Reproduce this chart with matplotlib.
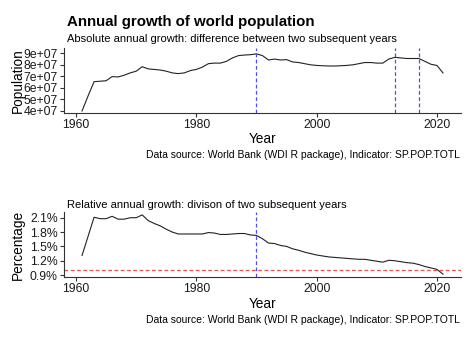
import matplotlib
matplotlib.use("Agg")
import matplotlib.pyplot as plt
from matplotlib.ticker import FuncFormatter

plt.rcParams['font.family'] = ['Liberation Sans', 'DejaVu Sans']

years = list(range(1961, 2022))
abs_growth = [4.00, 5.30, 6.54, 6.58, 6.62, 6.98, 6.95, 7.10, 7.30, 7.45,
              7.84, 7.65, 7.60, 7.55, 7.45, 7.30, 7.24, 7.30, 7.50, 7.60,
              7.80, 8.10, 8.15, 8.15, 8.30, 8.60, 8.80, 8.85, 8.88, 8.95,
              8.80, 8.42, 8.50, 8.42, 8.45, 8.25, 8.20, 8.10, 8.00, 7.95,
              7.92, 7.90, 7.90, 7.92, 7.95, 8.00, 8.10, 8.20, 8.20, 8.15,
              8.15, 8.50, 8.65, 8.60, 8.55, 8.55, 8.55, 8.30, 8.05, 7.95,
              7.30]
abs_growth = [v * 1e7 for v in abs_growth]
rel_growth = [1.31, 1.71, 2.11, 2.08, 2.08, 2.13, 2.07, 2.07, 2.10, 2.10,
              2.16, 2.04, 1.98, 1.93, 1.86, 1.80, 1.76, 1.76, 1.76, 1.76,
              1.76, 1.79, 1.78, 1.75, 1.75, 1.76, 1.77, 1.77, 1.74, 1.73,
              1.66, 1.57, 1.56, 1.52, 1.50, 1.45, 1.42, 1.38, 1.35, 1.32,
              1.30, 1.28, 1.27, 1.26, 1.25, 1.24, 1.23, 1.23, 1.21, 1.19,
              1.17, 1.21, 1.20, 1.18, 1.16, 1.15, 1.12, 1.08, 1.05, 1.02,
              0.92]
abs_vlines = [1990, 2013, 2017]
rel_vlines = [1990]
rel_hline = 1.0
x_ticks = [1960, 1980, 2000, 2020]
abs_ticks = [4e7, 5e7, 6e7, 7e7, 8e7, 9e7]
rel_ticks = [0.9, 1.2, 1.5, 1.8, 2.1]

W, H = 474, 338
fig = plt.figure(figsize=(W / 100, H / 100), dpi=100)

def fx(px):
    return px / W

def fy(py):
    return 1 - py / H

left, right = 64, 461
ax1 = fig.add_axes([fx(left), fy(112.7), fx(right - left), (112.7 - 48) / H])
ax2 = fig.add_axes([fx(left), fy(277), fx(right - left), (277 - 212) / H])

axis_col = '#333333'
for ax in (ax1, ax2):
    ax.set_xlim(1958, 2024)
    ax.set_xticks(x_ticks)
    for s in ('top', 'right'):
        ax.spines[s].set_visible(False)
    for s in ('left', 'bottom'):
        ax.spines[s].set_color(axis_col)
        ax.spines[s].set_linewidth(0.8)
    ax.tick_params(axis='both', length=3, width=0.8, color=axis_col,
                   labelsize=8.8, labelcolor='#1a1a1a', pad=1.5)

vcol = '#5050e0'
ax1.plot(years, abs_growth, color='#222222', lw=0.8)
for v in abs_vlines:
    ax1.axvline(v, color=vcol, lw=0.9, ls=(0, (3, 2)))
ax1.set_ylim(3.85e7, 9.46e7)
ax1.set_yticks(abs_ticks)
ax1.yaxis.set_major_formatter(FuncFormatter(lambda v, p: f"{v/1e7:.0f}e+07"))
ax1.set_xlabel('Year', fontsize=9.8, labelpad=1)
ax1.set_ylabel('Population', fontsize=9.8)
ax1.yaxis.set_label_coords(-0.098, 0.5)

ax2.plot(years, rel_growth, color='#222222', lw=0.8)
for v in rel_vlines:
    ax2.axvline(v, color=vcol, lw=0.9, ls=(0, (3, 2)))
ax2.axhline(rel_hline, color='#e05555', lw=0.9, ls=(0, (3, 2)))
ax2.set_ylim(0.86, 2.22)
ax2.set_yticks(rel_ticks)
ax2.yaxis.set_major_formatter(FuncFormatter(lambda v, p: f"{v:.1f}%"))
ax2.set_xlabel('Year', fontsize=9.8, labelpad=1)
ax2.set_ylabel('Percentage', fontsize=9.8)
ax2.yaxis.set_label_coords(-0.098, 0.5)

fig.text(fx(67), fy(25.7), 'Annual growth of world population',
         fontsize=10.8, fontweight='bold', va='baseline', ha='left')
fig.text(fx(67), fy(42.3), 'Absolute annual growth: difference between two subsequent years',
         fontsize=8.0, va='baseline', ha='left')
fig.text(fx(460), fy(157.7), 'Data source: World Bank (WDI R package), Indicator: SP.POP.TOTL',
         fontsize=7.45, va='baseline', ha='right')
fig.text(fx(67), fy(207.7), 'Relative annual growth: divison of two subsequent years',
         fontsize=8.0, va='baseline', ha='left')
fig.text(fx(460), fy(323.3), 'Data source: World Bank (WDI R package), Indicator: SP.POP.TOTL',
         fontsize=7.45, va='baseline', ha='right')

fig.savefig('out.png', dpi=100)
